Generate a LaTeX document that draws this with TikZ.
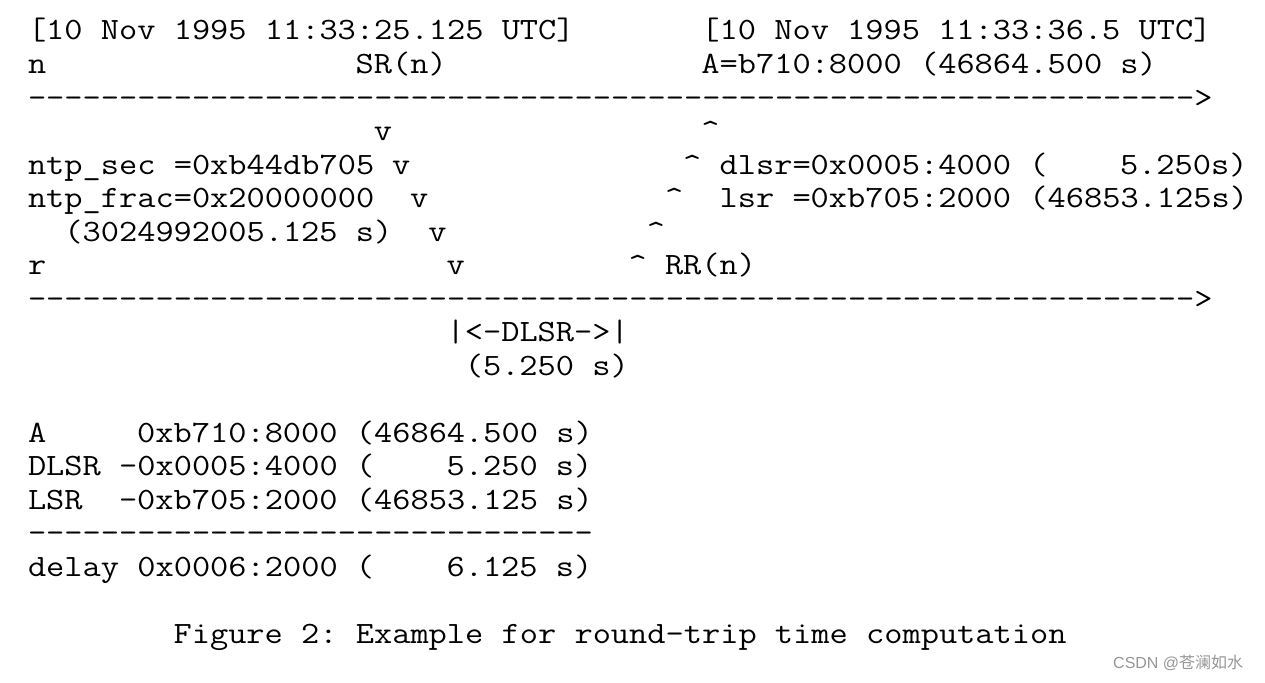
\documentclass[tikz,border=0pt]{standalone}
\usepackage{fontspec}
\usepackage{graphicx}
\newfontfamily\cjk{Noto Sans CJK SC}
\newfontfamily\wmsans{Liberation Sans}
\definecolor{wm}{RGB}{150,150,150}
\def\xo{28}
\def\cw{18.2}
\newcommand{\mt}[1]{\scalebox{1.1415}[1]{#1}}
\tikzset{
  mono/.style={anchor=base west, inner sep=0pt, outer sep=0pt, text=black,
    font=\ttfamily\frenchspacing\fontsize{31}{36}\selectfont},
  wmark/.style={anchor=base west, inner sep=0pt, text=wm,
    font=\fontsize{16}{18}\selectfont}
}
\begin{document}
\begin{tikzpicture}[x=1pt,y=-1pt]
\useasboundingbox[fill=white] (0,0) rectangle (1265,682);
% line 1
\node[mono] (t1a) at ({\xo+\cw*0},40) {\mt{[10 Nov 1995 11:33:25.125 UTC]}};
\node[mono] (t1b) at ({\xo+\cw*37},40) {\mt{[10 Nov 1995 11:33:36.5 UTC]}};
% line 2
\node[mono] (t2a) at ({\xo+\cw*0},73.5) {\mt{n}};
\node[mono] (t2b) at ({\xo+\cw*18},73.5) {\mt{SR(n)}};
\node[mono] (t2c) at ({\xo+\cw*37},73.5) {\mt{A=b710:8000 (46864.500 s)}};
% line 3
\node[mono] (t3) at ({\xo+\cw*0},107) {\mt{----------------------------------------------------------------{>}}};
% line 4
\node[mono] (t4a) at ({\xo+\cw*19},140.5) {\mt{v}};
\node[mono] (t4b) at ({\xo+\cw*37},140.5) {\mt{\textasciicircum}};
% line 5
\node[mono] (t5a) at ({\xo+\cw*0},174) {\mt{ntp\_sec =0xb44db705}};
\node[mono] (t5b) at ({\xo+\cw*20},174) {\mt{v}};
\node[mono] (t5c) at ({\xo+\cw*36},174) {\mt{\textasciicircum}};
\node[mono] (t5d) at ({\xo+\cw*38},174) {\mt{dlsr=0x0005:4000 (}};
\node[mono] (t5e) at ({\xo+\cw*60},174) {\mt{5.250s)}};
% line 6
\node[mono] (t6a) at ({\xo+\cw*0},207.5) {\mt{ntp\_frac=0x20000000}};
\node[mono] (t6b) at ({\xo+\cw*21},207.5) {\mt{v}};
\node[mono] (t6c) at ({\xo+\cw*35},207.5) {\mt{\textasciicircum}};
\node[mono] (t6d) at ({\xo+\cw*38},207.5) {\mt{lsr =0xb705:2000 (46853.125s)}};
% line 7
\node[mono] (t7a) at ({\xo+\cw*2},241) {\mt{(3024992005.125 s)}};
\node[mono] (t7b) at ({\xo+\cw*22},241) {\mt{v}};
\node[mono] (t7c) at ({\xo+\cw*34},241) {\mt{\textasciicircum}};
% line 8
\node[mono] (t8a) at ({\xo+\cw*0},274.5) {\mt{r}};
\node[mono] (t8b) at ({\xo+\cw*23},274.5) {\mt{v}};
\node[mono] (t8c) at ({\xo+\cw*33},274.5) {\mt{\textasciicircum}};
\node[mono] (t8d) at ({\xo+\cw*35},274.5) {\mt{RR(n)}};
% line 9
\node[mono] (t9) at ({\xo+\cw*0},308) {\mt{----------------------------------------------------------------{>}}};
% line 10-11
\node[mono] (t10) at ({\xo+\cw*23},341.5) {\mt{|<-DLSR->|}};
\node[mono] (t11) at ({\xo+\cw*24},375) {\mt{(5.250 s)}};
% lines 13-17
\node[mono] (t13a) at ({\xo+\cw*0},442) {\mt{A}};
\node[mono] (t13b) at ({\xo+\cw*6},442) {\mt{0xb710:8000 (46864.500 s)}};
\node[mono] (t14a) at ({\xo+\cw*0},475.5) {\mt{DLSR -0x0005:4000 (}};
\node[mono] (t14b) at ({\xo+\cw*23},475.5) {\mt{5.250 s)}};
\node[mono] (t15a) at ({\xo+\cw*0},509) {\mt{LSR}};
\node[mono] (t15b) at ({\xo+\cw*5},509) {\mt{-0xb705:2000 (46853.125 s)}};
\node[mono] (t16) at ({\xo+\cw*0},542.5) {\mt{-------------------------------}};
\node[mono] (t17a) at ({\xo+\cw*0},576) {\mt{delay 0x0006:2000 (}};
\node[mono] (t17b) at ({\xo+\cw*23},576) {\mt{6.125 s)}};
% caption
\node[mono] (t19) at ({\xo+\cw*8},643) {\mt{Figure 2: Example for round-trip time computation}};
% watermark
\node[wmark] (wm) at (1113,668) {{\wmsans CSDN @}{\cjk 苍澜如水}};
\end{tikzpicture}
\end{document}
